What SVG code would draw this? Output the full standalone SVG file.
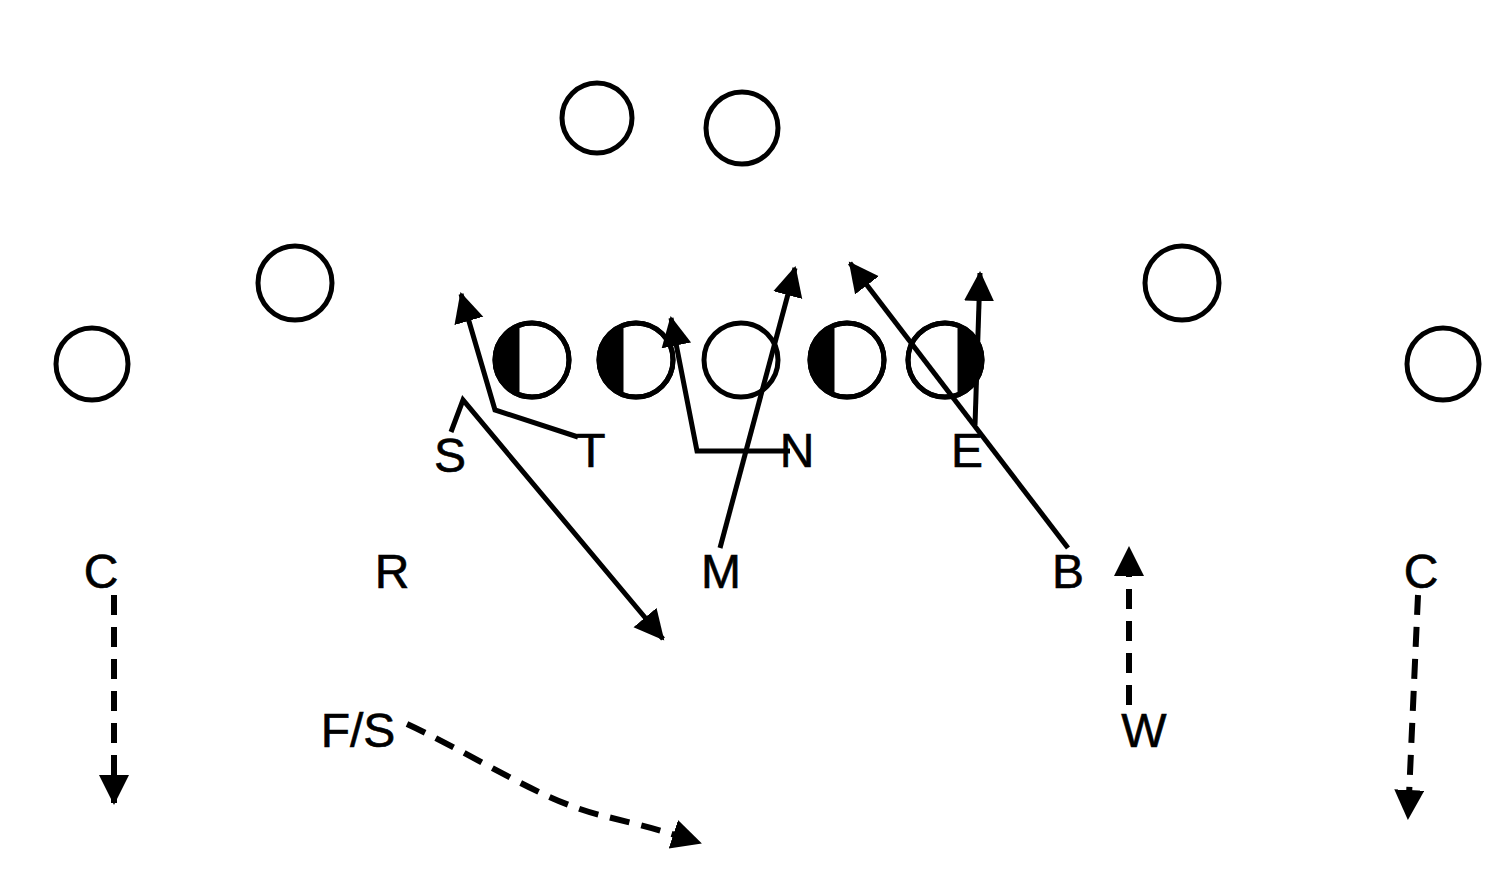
<svg xmlns="http://www.w3.org/2000/svg" width="1500" height="888" viewBox="0 0 1500 888">
<style>
.p{fill:#fff;stroke:#000;stroke-width:5}
.o{fill:none;stroke:#000;stroke-width:5}
.f{fill:#000}
.l{fill:none;stroke:#000;stroke-width:5;stroke-linejoin:miter}
.d{stroke-dasharray:20 12;stroke-width:6}
text{font-family:"Liberation Sans",Arial,sans-serif;font-size:48px;fill:#000;stroke:#000;stroke-width:0.6;text-anchor:middle}
</style>
<defs>
<marker id="ah" markerUnits="userSpaceOnUse" markerWidth="34" markerHeight="34" refX="28" refY="15" orient="auto" viewBox="0 0 34 34">
<path d="M0,0 L30,15 L0,30 z" fill="#000"/>
</marker>
</defs>
<rect width="1500" height="888" fill="#fff"/>
<g id="offense">
<g id="wr-top-1"><circle class="p" cx="597" cy="118" r="35"/></g>
<g id="wr-top-2"><circle class="p" cx="742" cy="128" r="36"/></g>
<g id="wing-left"><circle class="p" cx="295" cy="283" r="37"/></g>
<g id="wing-right"><circle class="p" cx="1182" cy="283" r="37"/></g>
<g id="wide-left"><circle class="p" cx="92" cy="364" r="36"/></g>
<g id="wide-right"><circle class="p" cx="1443" cy="364" r="36"/></g>
<g id="ol-1"><circle class="p" cx="532" cy="360" r="37"/><path class="f" d="M517,326 A37,37 0 0 0 517,394 z"/><circle class="o" cx="532" cy="360" r="37"/><line class="l" x1="517" y1="326" x2="517" y2="394"/></g>
<g id="ol-2"><circle class="p" cx="636" cy="360" r="37"/><path class="f" d="M621,326 A37,37 0 0 0 621,394 z"/><circle class="o" cx="636" cy="360" r="37"/><line class="l" x1="621" y1="326" x2="621" y2="394"/></g>
<g id="ol-3"><circle class="p" cx="741" cy="360" r="37"/></g>
<g id="ol-4"><circle class="p" cx="847" cy="360" r="37"/><path class="f" d="M832,326 A37,37 0 0 0 832,394 z"/><circle class="o" cx="847" cy="360" r="37"/><line class="l" x1="832" y1="326" x2="832" y2="394"/></g>
<g id="ol-5"><circle class="p" cx="945" cy="360" r="37"/><path class="f" d="M960,326 A37,37 0 0 1 960,394 z"/><circle class="o" cx="945" cy="360" r="37"/><line class="l" x1="960" y1="326" x2="960" y2="394"/></g>
</g>
<g id="connectors">
<path class="l" d="M578,437 L495,410 L461,294" marker-end="url(#ah)"/>
<path class="l" d="M790,451 L697,451 L671,318" marker-end="url(#ah)"/>
<path class="l" d="M720,548 L795,268" marker-end="url(#ah)"/>
<path class="l" d="M1068,548 L850,263" marker-end="url(#ah)"/>
<path class="l" d="M975,425 L980,273" marker-end="url(#ah)"/>
<path class="l" d="M451,432 L463,400 L663,639" marker-end="url(#ah)"/>
<path class="l d" d="M114,595 L114,803" marker-end="url(#ah)"/>
<path class="l d" d="M1129,705 L1129,548" marker-end="url(#ah)"/>
<path class="l d" d="M1418,595 L1408,818" marker-end="url(#ah)"/>
<path class="l d" d="M407,724 C480,758 540,800 600,815 S660,830 700,843" marker-end="url(#ah)"/>
</g>
<g id="defense">
<g id="lbl-C-left"><text x="101" y="588">C</text></g>
<g id="lbl-R"><text x="392" y="588">R</text></g>
<g id="lbl-M"><text x="721" y="588">M</text></g>
<g id="lbl-B"><text x="1068" y="588">B</text></g>
<g id="lbl-C-right"><text x="1421" y="588">C</text></g>
<g id="lbl-S"><text x="450" y="472">S</text></g>
<g id="lbl-T"><text x="591" y="467">T</text></g>
<g id="lbl-N"><text x="797" y="467">N</text></g>
<g id="lbl-E"><text x="967" y="467">E</text></g>
<g id="lbl-FS"><text x="358" y="747">F/S</text></g>
<g id="lbl-W"><text x="1144" y="747">W</text></g>
</g>
</svg>
